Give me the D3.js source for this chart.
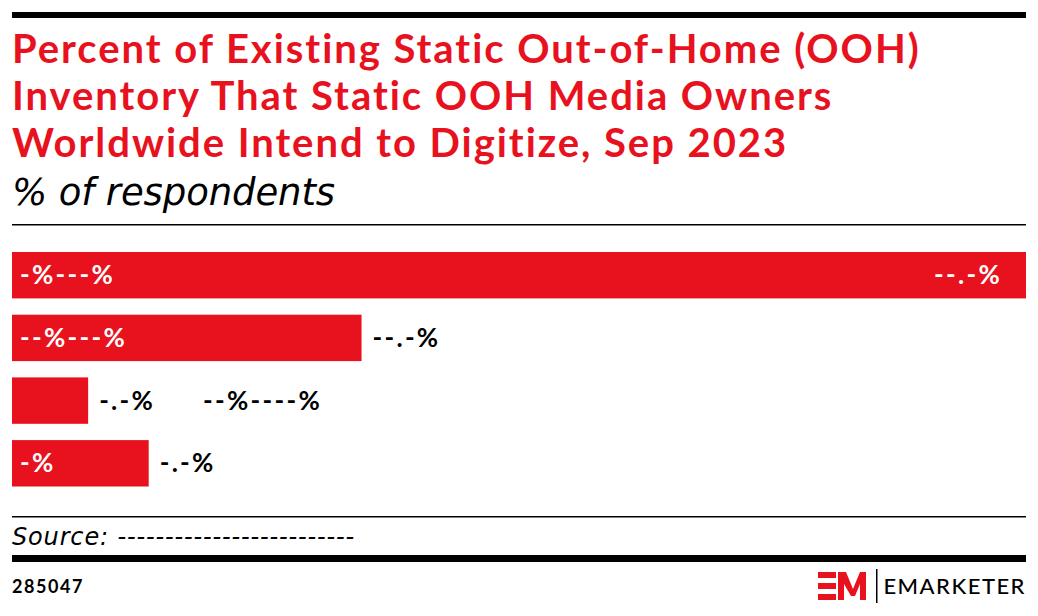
<!DOCTYPE html>
<html>
<head>
<meta charset="utf-8">
<script src="https://cdn.jsdelivr.net/npm/d3@7"></script>
<style>
  body { margin: 0; background: #fff; }
  svg { font-family: Lato, "Open Sans", sans-serif; }
</style>
</head>
<body>
<script>
const width = 1038
const height = 616
const red = '#e8111e'

// data (labels are masked in the source picture)
const categories = ['-%---%', '--%---%', '--%----%', '-%']
const values = [58.6, 20.2, 4.4, 7.9]
const valueLabels = ['--.-%', '--.-%', '-.-%', '-.-%']

const titleLines = [
    'Percent of Existing Static Out-of-Home (OOH)',
    'Inventory That Static OOH Media Owners',
    'Worldwide Intend to Digitize, Sep 2023'
]

let svg = d3.select('body').append('svg')
    .attr('width', width)
    .attr('height', height)

// stretch a text to a target width with letter-spacing
function fitWidth(sel, target) {
    let n = sel.text().length
    let w = sel.node().getComputedTextLength()
    let ls = (target - w) / n
    sel.attr('letter-spacing', ls)
    return ls
}

// top rule
svg.append('rect').attr('x', 12).attr('y', 12).attr('width', 1014).attr('height', 6).attr('fill', '#000')

// title
let tl = svg.append('g').selectAll('text')
    .data(titleLines)
    .join('text')
    .attr('x', 12)
    .attr('y', (d, i) => 63 + i * 47)
    .attr('fill', red)
    .attr('font-size', 40)
    .attr('font-weight', 700)
    .text(d => d)
let tls = fitWidth(d3.select(tl.nodes()[0]), 910)
tl.attr('letter-spacing', tls)

let sub = svg.append('text')
    .attr('x', 12).attr('y', 205)
    .style('font-family', "'DejaVu Sans'")
    .style('font-size', '37px')
    .style('font-style', 'oblique')
    .attr('fill', '#000')
    .text('% of respondents')
fitWidth(sub, 323)

svg.append('rect').attr('x', 12).attr('y', 224).attr('width', 1014).attr('height', 1.5).attr('fill', '#000')

// bars
let x = d3.scaleLinear().domain([0, d3.max(values)]).range([12, 1026])
let y = d3.scaleBand().domain(categories).range([252, 486.5]).paddingInner(0.26).paddingOuter(0)

let rows = svg.append('g').selectAll('g')
    .data(categories.map((c, i) => ({ cat: c, val: values[i], lab: valueLabels[i] })))
    .join('g')

rows.append('rect')
    .attr('x', x(0))
    .attr('y', d => y(d.cat))
    .attr('width', d => x(d.val) - x(0))
    .attr('height', y.bandwidth())
    .attr('fill', red)

// letter spacing for bar labels, from the first category label
let probe = svg.append('text').attr('font-size', 26).attr('font-weight', 700).text(categories[0])
let labLs = fitWidth(probe, 95)
probe.remove()

rows.each(function(d) {
    let g = d3.select(this)
    let cy = y(d.cat) + y.bandwidth() / 2 + 9
    let barEnd = x(d.val)

    let vl = g.append('text')
        .attr('y', cy)
        .attr('font-size', 26)
        .attr('font-weight', 700)
        .attr('letter-spacing', labLs)
        .text(d.lab)
    let vw = vl.node().getComputedTextLength()

    let cl = g.append('text')
        .attr('y', cy)
        .attr('font-size', 26)
        .attr('font-weight', 700)
        .attr('letter-spacing', labLs)
        .text(d.cat)
    let cw = cl.node().getComputedTextLength()

    if (barEnd - x(0) > (x.range()[1] - x(0)) * 0.6) {
        cl.attr('x', x(0) + 8).attr('fill', '#fff')
        vl.attr('x', barEnd - 24).attr('text-anchor', 'end').attr('fill', '#fff')
    } else if (barEnd - x(0) > cw + 16) {
        cl.attr('x', x(0) + 8).attr('fill', '#fff')
        vl.attr('x', barEnd + 11).attr('fill', '#000')
    } else {
        vl.attr('x', barEnd + 11).attr('fill', '#000')
        cl.attr('x', barEnd + 11 + vw + 48).attr('fill', '#000')
    }
})

// footer
svg.append('rect').attr('x', 12).attr('y', 516).attr('width', 1014).attr('height', 1.5).attr('fill', '#000')
let src = svg.append('text')
    .attr('x', 12).attr('y', 545)
    .style('font-family', "'DejaVu Sans'")
    .style('font-size', '24px')
    .style('font-style', 'oblique')
    .text('Source: -------------------------')
fitWidth(src, 343)
svg.append('rect').attr('x', 12).attr('y', 555).attr('width', 1014).attr('height', 7).attr('fill', '#000')

let id = svg.append('text')
    .attr('x', 12).attr('y', 593)
    .attr('font-size', 18)
    .attr('font-weight', 700)
    .text('285047')
fitWidth(id, 72)

// logo
let logo = svg.append('g').attr('transform', 'translate(818,572)')
logo.append('rect').attr('x', 0).attr('y', 0).attr('width', 18).attr('height', 6).attr('fill', red)
logo.append('rect').attr('x', 0).attr('y', 11).attr('width', 18).attr('height', 6).attr('fill', red)
logo.append('rect').attr('x', 0).attr('y', 22).attr('width', 18).attr('height', 6).attr('fill', red)
logo.append('path')
    .attr('d', 'M20 28 L20 0 L28 0 L35 17 L42 0 L48 0 L48 28 L42 28 L42 12 L37 24 L33 24 L26 12 L26 28 Z')
    .attr('fill', red)
logo.append('rect').attr('x', 58).attr('y', -3).attr('width', 1.5).attr('height', 34).attr('fill', '#000')
svg.append('text')
    .attr('x', 1026).attr('y', 594)
    .attr('text-anchor', 'end')
    .attr('font-size', 22)
    .attr('font-weight', 500)
    .attr('letter-spacing', 1.5)
    .text('EMARKETER')
</script>
</body>
</html>
